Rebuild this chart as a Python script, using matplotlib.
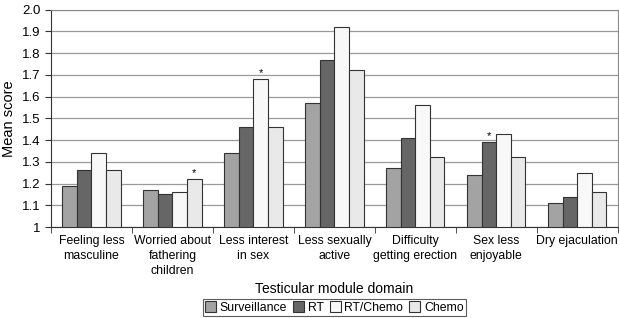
import matplotlib
matplotlib.use("Agg")
import matplotlib.pyplot as plt
import numpy as np

plt.rcParams['font.family'] = ['Liberation Sans', 'DejaVu Sans']

categories = ["Feeling less\nmasculine", "Worried about\nfathering\nchildren", "Less interest\nin sex",
              "Less sexually\nactive", "Difficulty\ngetting erection", "Sex less\nenjoyable", "Dry ejaculation"]
series_names = ["Surveillance", "RT", "RT/Chemo", "Chemo"]
surveillance = [1.19, 1.17, 1.34, 1.57, 1.27, 1.24, 1.11]
rt = [1.26, 1.15, 1.46, 1.77, 1.41, 1.39, 1.14]
rt_chemo = [1.34, 1.16, 1.68, 1.92, 1.56, 1.43, 1.25]
chemo = [1.26, 1.22, 1.46, 1.72, 1.32, 1.32, 1.16]
# significance markers: (category index, series index)
stars = [(1, 3), (2, 2), (5, 1)]

colors = ["#a3a3a3", "#666666", "#f8f8f8", "#e9e9e9"]
series = [surveillance, rt, rt_chemo, chemo]

fig = plt.figure(figsize=(6.19, 3.18), dpi=100)
ax = fig.add_axes([0.0824, 0.286, 0.9156, 0.684])

x = np.arange(len(categories))
w = 0.18
for i, (vals, c, name) in enumerate(zip(series, colors, series_names)):
    ax.bar(x + (i - 1.5) * w, np.array(vals) - 1, bottom=1, width=w, color=c,
           edgecolor="#333333", linewidth=0.8, label=name, zorder=3)

for ci, si in stars:
    v = series[si][ci]
    ax.text(x[ci] + (si - 1.5) * w, v + 0.005, "*", ha="center", va="bottom", fontsize=8, zorder=4)

ax.set_xlim(-0.5, len(categories) - 0.5)
ax.set_ylim(1, 2.0)
ax.set_yticks(np.arange(1, 2.01, 0.1))
ax.set_yticklabels(["1"] + [f"{v:.1f}" for v in np.arange(1.1, 2.01, 0.1)], fontsize=9.5)
ax.yaxis.grid(True, color="#9a9a9a", linewidth=0.9, zorder=0)
ax.set_axisbelow(True)

ax.set_xticks(x)
ax.set_xticklabels(categories, fontsize=8.8, va="top", linespacing=1.3)
ax.tick_params(axis="x", length=0, pad=6)
ax.set_xticks(np.arange(-0.5, len(categories) + 0.5, 1), minor=True)
ax.tick_params(axis="x", which="minor", length=4, direction="out", color="#333333")
ax.tick_params(axis="y", length=4, direction="out", color="#333333")

for s in ["left", "bottom"]:
    ax.spines[s].set_color("#333333")
for s in ["top", "right"]:
    ax.spines[s].set_color("#888888")

ax.set_ylabel("Mean score", fontsize=10.5, labelpad=4)
ax.set_xlabel("Testicular module domain", fontsize=10, labelpad=4)

leg = ax.legend(loc="upper center", bbox_to_anchor=(0.5, -0.331), ncol=4, frameon=True,
                fancybox=False, edgecolor="#333333", fontsize=8.8, handlelength=0.9,
                handleheight=0.9, handletextpad=0.3, columnspacing=0.5, borderpad=0.2,
                borderaxespad=0)
leg.get_frame().set_linewidth(0.8)

fig.savefig("out.png", dpi=100)
